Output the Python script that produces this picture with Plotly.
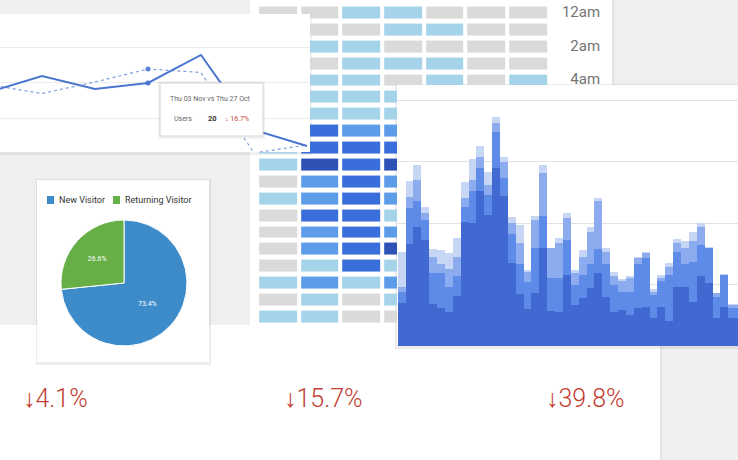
import plotly.graph_objects as go

W, H = 738, 460
FONT = "Roboto"

# ---------------- data ----------------
# line chart (users per day, current vs previous week)
days = ["Mon 31 Oct", "Tue 01 Nov", "Wed 02 Nov", "Thu 03 Nov", "Fri 04 Nov", "Sat 05 Nov", "Sun 06 Nov"]
prev_days = ["Mon 24 Oct", "Tue 25 Oct", "Wed 26 Oct", "Thu 27 Oct", "Fri 28 Oct", "Sat 29 Oct", "Sun 30 Oct"]
users_current = [17.4, 22, 18.3, 20, 28, 6.6, 2]
users_previous = [19.5, 17, 20.3, 24, 23, 0, 2.3]
hover_idx = 3

# heatmap (hour x weekday activity level 0..4)
weekdays = ["Sun", "Mon", "Tue", "Wed", "Thu", "Fri", "Sat"]
hours = ["12am", "1am", "2am", "3am", "4am", "5am", "6am", "7am", "8am", "9am",
         "10am", "11am", "12pm", "1pm", "2pm", "3pm", "4pm", "5pm", "6pm"]
hour_labels = ["12am", "", "2am", "", "4am", "", "6am", "", "8am", "", "10am", "",
               "12pm", "", "2pm", "", "4pm", "", "6pm"]
activity = [
    [0, 0, 1, 1, 0, 0, 0],
    [0, 0, 0, 1, 1, 0, 0],
    [0, 1, 1, 0, 0, 0, 0],
    [0, 0, 1, 1, 1, 0, 0],
    [1, 1, 1, 0, 1, 0, 1],
    [1, 1, 1, 1, 0, 0, 1],
    [0, 1, 1, 1, 1, 0, 0],
    [1, 3, 2, 2, 1, 1, 0],
    [1, 3, 3, 3, 2, 1, 1],
    [1, 4, 3, 4, 2, 1, 1],
    [0, 2, 3, 2, 2, 1, 0],
    [1, 2, 3, 2, 3, 1, 1],
    [0, 3, 3, 1, 2, 2, 1],
    [0, 2, 3, 2, 2, 1, 1],
    [0, 2, 3, 4, 2, 1, 0],
    [0, 1, 3, 1, 2, 1, 1],
    [1, 2, 1, 2, 1, 1, 0],
    [0, 1, 0, 1, 1, 0, 0],
    [1, 1, 0, 0, 1, 0, 1],
]

# pie
visitor_types = ["New Visitor", "Returning Visitor"]
visitor_share = [73.4, 26.6]

# stacked step bars (cumulative tops of the four layers)
series_dark = [7.0, 16.6, 19.4, 17.2, 6.9, 6.2, 5.6, 8.2, 20.2, 20.0, 25.2, 21.3, 29.0, 24.4, 13.5, 8.4,
               6.0, 8.7, 15.9, 5.7, 5.6, 11.6, 6.7, 7.8, 9.4, 11.8, 8.0, 5.6, 5.9, 5.0, 6.2, 6.4,
               4.5, 6.4, 4.1, 9.6, 9.6, 7.1, 11.4, 10.2, 4.5, 6.4, 4.5, 4.5]
series_medium = [8.8, 22.5, 23.5, 20.5, 11.8, 11.8, 9.6, 11.4, 22.6, 25.2, 28.9, 24.6, 34.8, 27.3, 18.2, 13.3,
                 10.4, 15.9, 21.2, 11.0, 11.0, 17.2, 9.9, 11.5, 13.4, 15.7, 13.4, 9.9, 8.8, 8.8, 13.4, 14.3,
                 8.3, 10.5, 11.5, 15.3, 13.4, 13.7, 16.5, 15.9, 8.0, 11.5, 6.2, 6.2]
series_light = [9.6, 24.3, 27.0, 21.7, 14.4, 13.4, 12.6, 14.4, 24.1, 27.0, 30.8, 26.2, 36.2, 29.9, 20.0, 16.7,
                12.1, 20.5, 28.1, 15.9, 16.7, 20.8, 11.8, 14.5, 18.6, 23.5, 15.3, 11.4, 10.6, 11.1, 14.3, 15.1,
                8.8, 11.1, 12.9, 16.7, 16.0, 17.0, 19.4, 16.0, 8.6, 11.6, 6.7, 6.7]
series_pale = [15.3, 26.9, 29.4, 22.6, 15.7, 15.6, 15.1, 17.5, 26.7, 30.4, 32.5, 28.3, 37.2, 30.8, 21.0, 19.7,
               12.4, 21.1, 29.5, 16.0, 17.6, 21.6, 12.4, 15.6, 19.4, 24.1, 15.9, 12.0, 10.9, 11.4, 14.5, 15.3,
               9.3, 11.5, 13.5, 17.4, 17.0, 18.6, 20.0, 16.1, 8.7, 11.7, 6.8, 6.8]
bar_x = list(range(len(series_dark)))

# KPI changes
kpi_changes = [-4.1, -15.7, -39.8]


# ---------------- helpers (pixel -> paper) ----------------
def px(x):
    return x / W


def py(y):
    return 1 - y / H


fig = go.Figure()

# ---- heatmap subplot (x, y) ----
heat_colors = ["#dadada", "#a5d3ea", "#5c9ce9", "#3a6edb", "#2e52b6"]
fig.add_trace(go.Heatmap(
    z=activity, x=list(range(len(weekdays))), y=list(range(len(hours))),
    zmin=0, zmax=4,
    colorscale=[[i / 4, c] for i, c in enumerate(heat_colors)],
    showscale=False, xgap=4, ygap=5, hoverinfo="skip",
    xaxis="x", yaxis="y",
))
fig.add_trace(go.Scatter(
    x=[7.73] * len(hours), y=list(range(len(hours))), text=hour_labels,
    mode="text", textposition="middle left",
    textfont=dict(family=FONT, size=15, color="#757575"),
    hoverinfo="skip", cliponaxis=False, xaxis="x", yaxis="y",
))

# ---- line chart subplot (x2, y2) ----
fig.add_trace(go.Scatter(
    x=days, y=users_previous, mode="lines",
    line=dict(color="#7d9fe2", width=1.2, dash="dot"),
    hoverinfo="skip", xaxis="x2", yaxis="y2",
))
fig.add_trace(go.Scatter(
    x=days, y=users_current, mode="lines",
    line=dict(color="#4a76d0", width=2),
    hoverinfo="skip", xaxis="x2", yaxis="y2",
))
fig.add_trace(go.Scatter(
    x=[days[hover_idx], days[hover_idx]],
    y=[users_previous[hover_idx], users_current[hover_idx]],
    mode="markers", marker=dict(color=["#5b82d6", "#4a76d0"], size=5),
    hoverinfo="skip", xaxis="x2", yaxis="y2",
))

# ---- bars subplot (x3, y3) ----
for vals, col in [(series_pale, "#c8d6f6"), (series_light, "#8dabef"),
                  (series_medium, "#5d8be7"), (series_dark, "#4169d1")]:
    fig.add_trace(go.Bar(
        x=bar_x, y=vals, marker=dict(color=col, line=dict(width=0)),
        width=1, hoverinfo="skip", xaxis="x3", yaxis="y3",
    ))

# ---- pie ----
fig.add_trace(go.Pie(
    labels=visitor_types, values=visitor_share, sort=False,
    direction="clockwise", rotation=0,
    marker=dict(colors=["#3d8bc8", "#67ae47"], line=dict(color="white", width=1)),
    texttemplate="%{percent:.1%}", textposition="inside",
    insidetextorientation="horizontal",
    textfont=dict(family=FONT, size=7, color="white"),
    domain=dict(x=[px(61), px(187)], y=[py(346), py(220)]),
    showlegend=False, hoverinfo="skip",
))

# ---------------- panels (shapes) ----------------
shapes = []


def rect(x0, y0, x1, y1, fill, layer="below", line=None):
    shapes.append(dict(type="rect", xref="paper", yref="paper",
                       x0=px(x0), x1=px(x1), y0=py(y1), y1=py(y0),
                       fillcolor=fill, layer=layer,
                       line=line or dict(width=0)))


# bottom white panel
rect(0, 325, 660, 460, "white")
rect(660, 325, 662, 460, "rgba(0,0,0,0.04)")
# heatmap panel right shadow
rect(612, 0, 614, 325, "rgba(0,0,0,0.05)")
# line panel shadow
rect(0, 152, 311, 155, "rgba(0,0,0,0.06)")
rect(310, 14, 312, 155, "rgba(0,0,0,0.05)")
# bar panel shadow
rect(395, 84, 738, 349, "rgba(0,0,0,0.07)")
# pie card
rect(36, 179, 211, 365, "rgba(0,0,0,0.07)")
rect(37, 180, 209, 362, "white")
# pie legend squares
rect(47, 196, 54, 204, "#3d8bc8", layer="above")
rect(113, 196, 120, 204, "#67ae47", layer="above")
# tooltip box
rect(158, 81, 265, 139, "rgba(0,0,0,0.05)", layer="above")
rect(160, 83, 263, 136, "white", layer="above", line=dict(color="#d6d6d6", width=1))
# hover vertical line on the line chart
shapes.append(dict(type="line", xref="x2", yref="y2 domain",
                   x0=days[hover_idx], x1=days[hover_idx], y0=0, y1=1,
                   line=dict(color="#e6e6e6", width=1), layer="below"))

# ---------------- annotations ----------------
ann = []


def text(x, y, s, size, color, anchor="left", weight=None):
    f = dict(family=FONT, size=size, color=color)
    if weight:
        f["weight"] = weight
    ann.append(dict(xref="paper", yref="paper", x=px(x), y=py(y), text=s,
                    showarrow=False, xanchor=anchor, yanchor="middle", font=f))


text(57, 200, visitor_types[0], 9, "#333333")
text(123, 200, visitor_types[1], 9, "#333333")

cur, prv = users_current[hover_idx], users_previous[hover_idx]
chg = (cur - prv) / prv * 100
text(210, 99, f"{days[hover_idx]} vs {prev_days[hover_idx]}", 7, "#666666", anchor="center")
text(172, 119, "Users", 7, "#666666")
text(212, 119, f"<b>{cur:g}</b>", 7.5, "#333333", anchor="center")
text(223, 119, f"{'↓' if chg < 0 else '↑'} {abs(chg):.1f}%", 7, "#d0463c")

for xpos, v in zip([21, 282, 544], kpi_changes):
    arrow = "↓" if v < 0 else "↑"
    text(xpos, 398, f"<b>{arrow}</b>{abs(v):.1f}%", 25, "#c23d31", weight=300)

# ---------------- layout ----------------
hidden = dict(showgrid=False, zeroline=False, showticklabels=False, ticks="", showline=False)

fig.update_layout(
    width=W, height=H, margin=dict(l=0, r=0, t=0, b=0),
    paper_bgcolor="#efefef", plot_bgcolor="white",
    showlegend=False, barmode="overlay", bargap=0,
    xaxis=dict(domain=[px(250), px(612)], range=[-0.672, 8.016], anchor="y", **hidden),
    yaxis=dict(domain=[py(325), 1], range=[18.47, -0.77], anchor="x", **hidden),
    xaxis2=dict(domain=[0, px(310)], range=[0.2075, 6.057], anchor="y2", type="category", **hidden),
    yaxis2=dict(domain=[py(152), py(14)], range=[0.286, 39.71], anchor="x2",
                showgrid=True, gridcolor="#ededed", gridwidth=1, tickvals=[10, 20, 30],
                zeroline=False, showticklabels=False, ticks="", showline=False),
    xaxis3=dict(domain=[px(397), 1], range=[-0.585, 42.74], anchor="y3", **hidden),
    yaxis3=dict(domain=[py(346), py(85)], range=[0, 42.44], anchor="x3",
                showgrid=True, gridcolor="#e2e2e2", gridwidth=1, tickvals=[10, 20, 30, 40],
                zeroline=False, showticklabels=False, ticks="", showline=False),
    shapes=shapes, annotations=ann,
    font=dict(family=FONT),
)

fig.write_html("out.html")
